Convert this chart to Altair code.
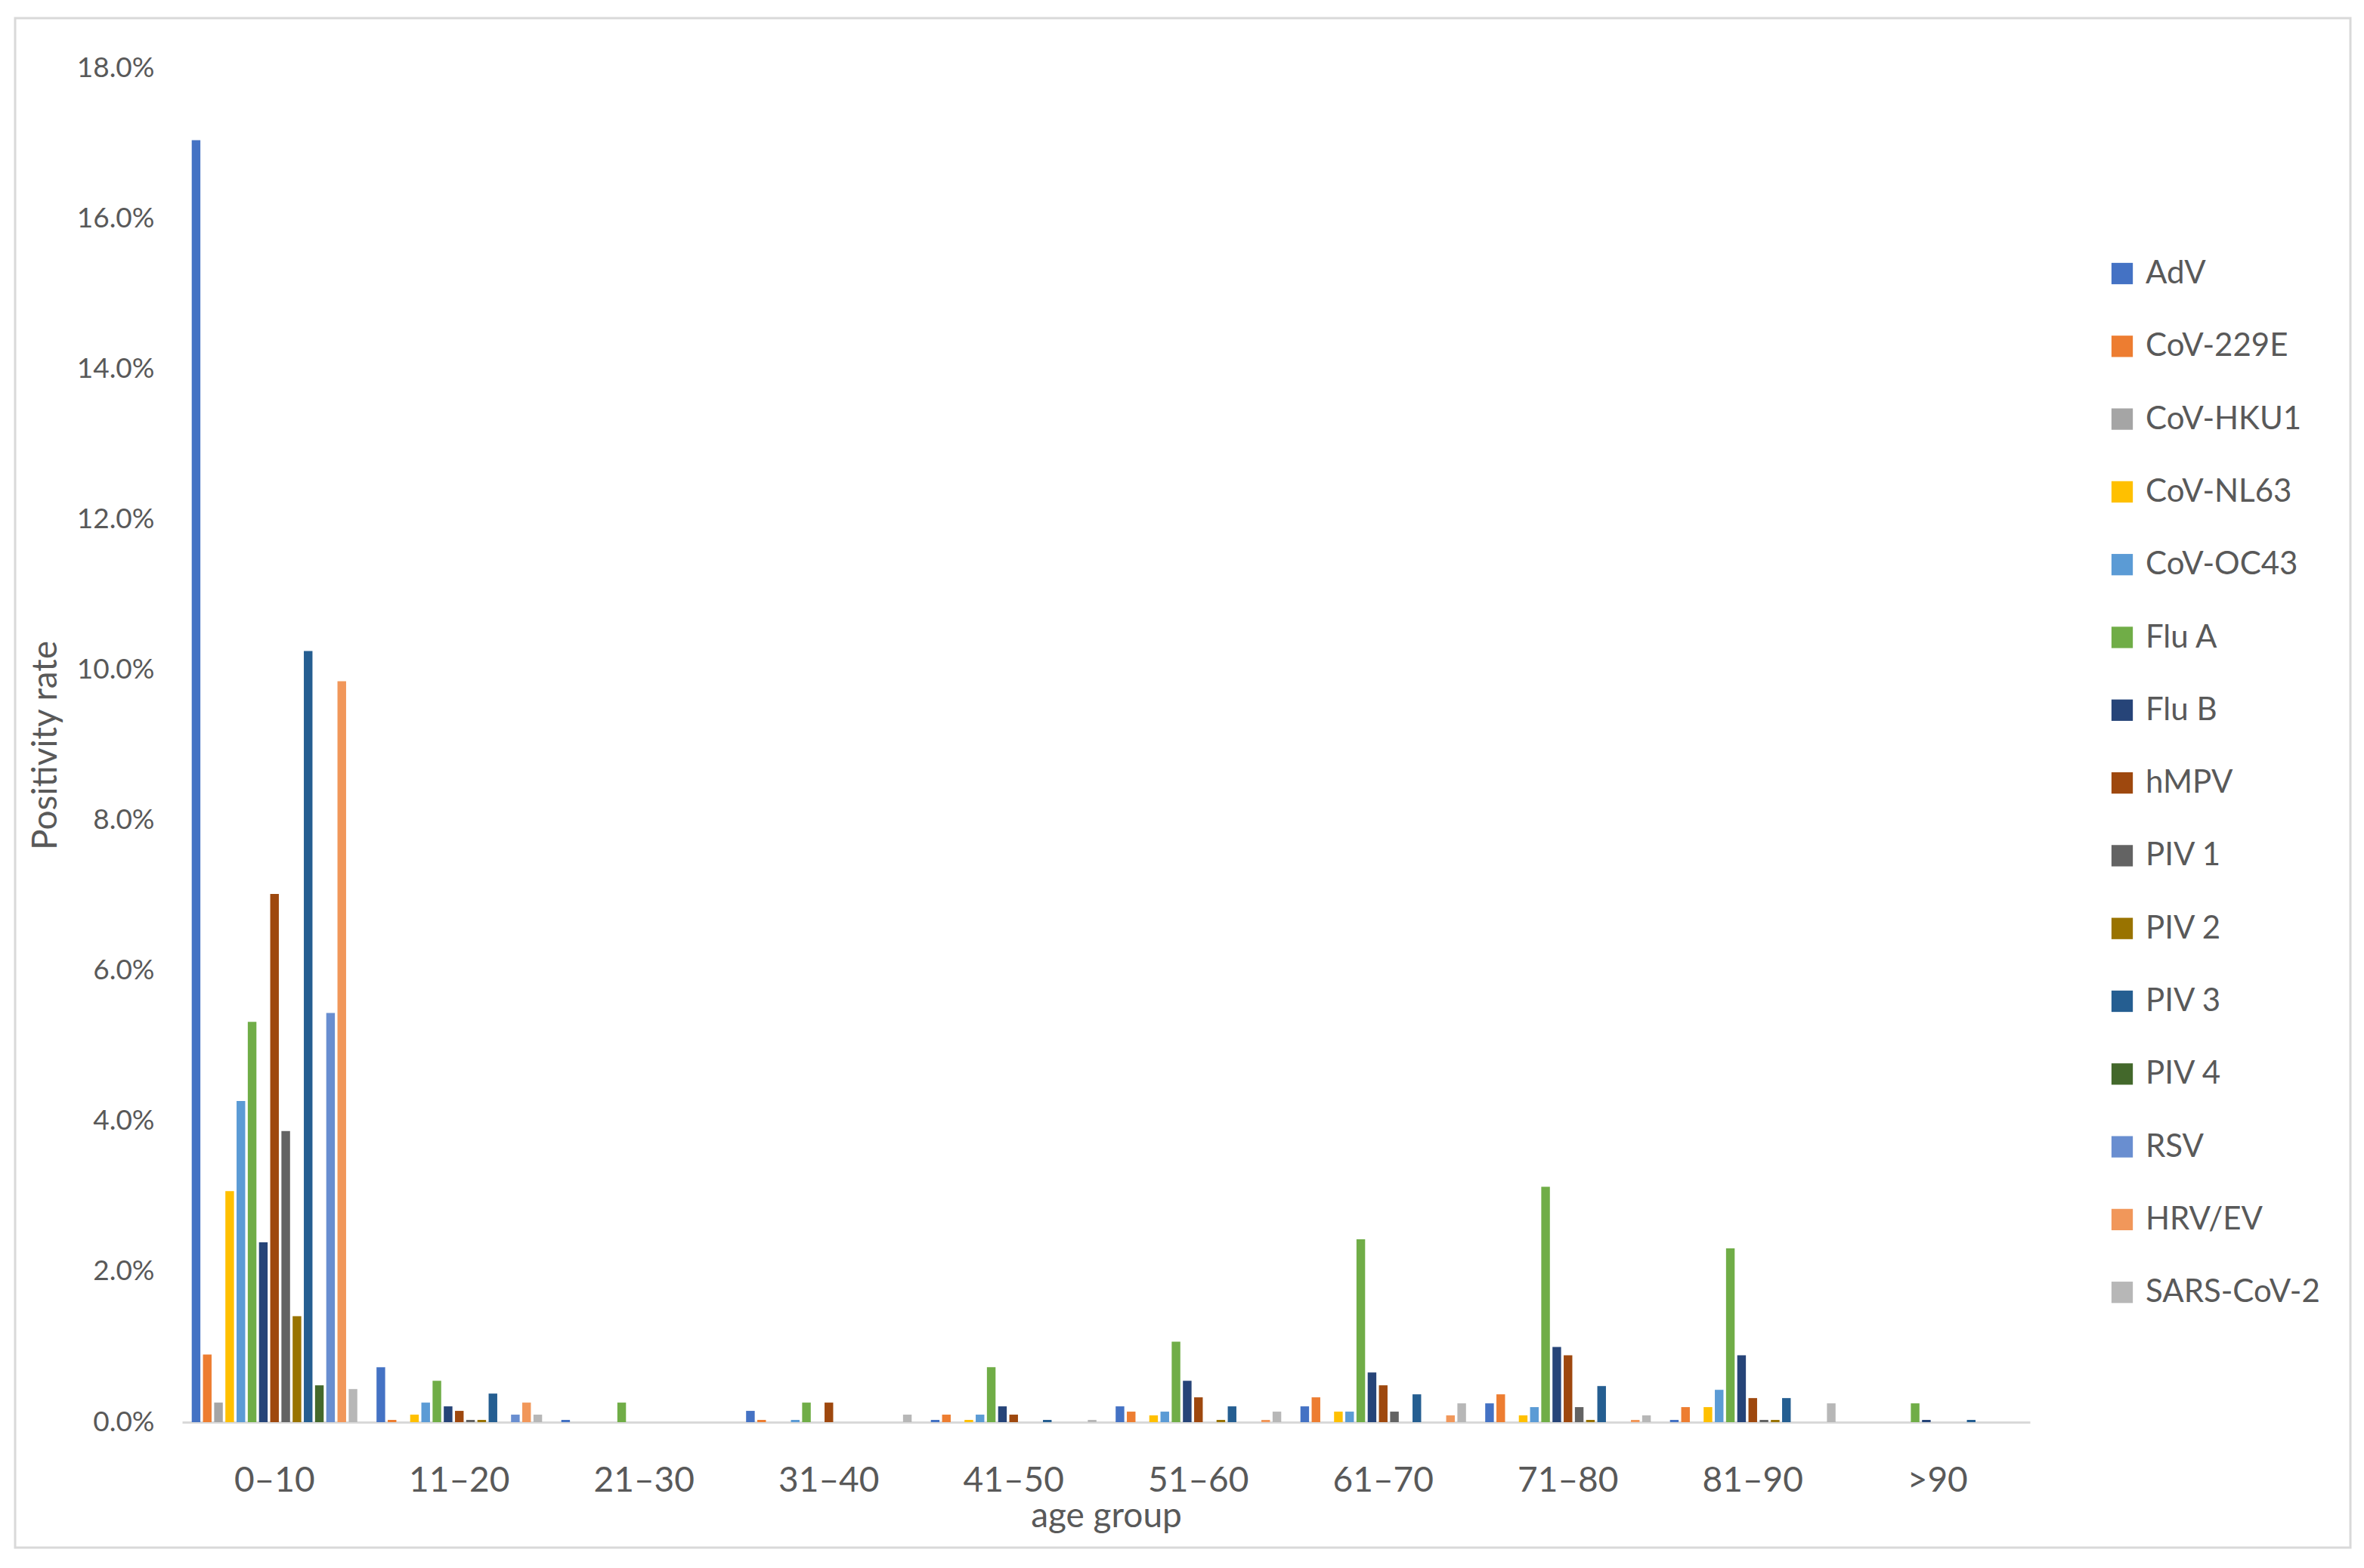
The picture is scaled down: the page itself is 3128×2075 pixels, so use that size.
import altair as alt
import pandas as pd

ages = ["0–10", "11–20", "21–30", "31–40", "41–50", "51–60", "61–70", "71–80", "81–90", ">90"]

series = ["AdV", "CoV-229E", "CoV-HKU1", "CoV-NL63", "CoV-OC43", "Flu A", "Flu B", "hMPV",
          "PIV 1", "PIV 2", "PIV 3", "PIV 4", "RSV", "HRV/EV", "SARS-CoV-2"]

colors = ["#4472C4", "#ED7D31", "#A5A5A5", "#FFC000", "#5B9BD5", "#70AD47", "#264478", "#9E480E",
          "#636363", "#997300", "#255E91", "#43682B", "#698ED0", "#F1975A", "#B7B7B7"]

# positivity rate in percent, per age group
adv   = [17.04, 0.73, 0.03, 0.15, 0.03, 0.21, 0.21, 0.25, 0.03, 0.00]
c229e = [0.90, 0.03, 0.00, 0.03, 0.10, 0.14, 0.33, 0.37, 0.20, 0.00]
hku1  = [0.26, 0.00, 0.00, 0.00, 0.00, 0.00, 0.00, 0.00, 0.00, 0.00]
nl63  = [3.07, 0.10, 0.00, 0.00, 0.03, 0.09, 0.14, 0.09, 0.20, 0.00]
oc43  = [4.27, 0.26, 0.00, 0.03, 0.10, 0.14, 0.14, 0.20, 0.43, 0.00]
flua  = [5.32, 0.55, 0.26, 0.26, 0.73, 1.07, 2.43, 3.13, 2.31, 0.25]
flub  = [2.39, 0.21, 0.00, 0.00, 0.21, 0.55, 0.66, 1.00, 0.89, 0.03]
hmpv  = [7.02, 0.15, 0.00, 0.26, 0.10, 0.33, 0.49, 0.89, 0.32, 0.00]
piv1  = [3.87, 0.03, 0.00, 0.00, 0.00, 0.00, 0.14, 0.20, 0.03, 0.00]
piv2  = [1.41, 0.03, 0.00, 0.00, 0.00, 0.03, 0.00, 0.03, 0.03, 0.00]
piv3  = [10.25, 0.38, 0.00, 0.00, 0.03, 0.21, 0.37, 0.48, 0.32, 0.03]
piv4  = [0.49, 0.00, 0.00, 0.00, 0.00, 0.00, 0.00, 0.00, 0.00, 0.00]
rsv   = [5.44, 0.10, 0.00, 0.00, 0.00, 0.00, 0.00, 0.00, 0.00, 0.00]
hrv   = [9.85, 0.26, 0.00, 0.00, 0.00, 0.03, 0.09, 0.03, 0.00, 0.00]
sars  = [0.44, 0.10, 0.00, 0.10, 0.03, 0.14, 0.25, 0.09, 0.25, 0.00]

values = [adv, c229e, hku1, nl63, oc43, flua, flub, hmpv, piv1, piv2, piv3, piv4, rsv, hrv, sars]

rows = []
for s, vals in zip(series, values):
    for a, v in zip(ages, vals):
        rows.append({"age": a, "virus": s, "rate": v / 100.0})
df = pd.DataFrame(rows)

FONT = "Lato"
TXT = "#595959"

bars = alt.Chart(df).mark_bar().encode(
    x=alt.X("age:N", sort=ages,
            scale=alt.Scale(paddingInner=0.09, paddingOuter=0.045),
            axis=alt.Axis(title="age group", labelAngle=0, labelFontSize=46, labelColor=TXT,
                          labelFont=FONT, titleFont=FONT, titleFontSize=46, titleColor=TXT,
                          titleFontWeight="normal", ticks=False, tickSize=0, labelPadding=55,
                          titlePadding=2, domainColor="#D9D9D9", domainWidth=3, grid=False)),
    xOffset=alt.XOffset("virus:N", sort=series,
                        scale=alt.Scale(paddingInner=0.23, paddingOuter=0.115)),
    y=alt.Y("rate:Q",
            scale=alt.Scale(domain=[0, 0.18], nice=False),
            axis=alt.Axis(title="Positivity rate", format=".1%",
                          values=[0, 0.02, 0.04, 0.06, 0.08, 0.10, 0.12, 0.14, 0.16, 0.18],
                          labelFontSize=37, labelColor=TXT, labelFont=FONT, labelPadding=37,
                          titleFont=FONT, titleFontSize=46, titleColor=TXT, titleFontWeight="normal",
                          titleX=-181, titleBaseline="middle",
                          domain=False, ticks=False, tickSize=0, grid=False)),
    color=alt.Color("virus:N", sort=series,
                    scale=alt.Scale(domain=series, range=colors),
                    legend=alt.Legend(title=None, orient="none", legendX=2546, legendY=251,
                                      symbolType="square", symbolSize=800, symbolStrokeWidth=0,
                                      labelFontSize=42, labelFont=FONT, labelColor=TXT,
                                      labelOffset=10, rowPadding=54.3, padding=0,
                                      labelLimit=400)),
)

frame = alt.Chart(alt.Data(values=[{}])).mark_rect(
    fill="transparent", stroke="#D9D9D9", strokeWidth=3
).encode(
    x=alt.value(-221), x2=alt.value(2869), y=alt.value(-66), y2=alt.value(1958)
)

chart = alt.layer(frame, bars).properties(
    width=2445, height=1792,
    autosize=alt.AutoSizeParams(type="none"),
    padding={"left": 233, "top": 82, "right": 434, "bottom": 181},
    background="white",
).configure_view(stroke=None)

chart.save("out.html", embed_options={"renderer": "svg", "actions": False})
